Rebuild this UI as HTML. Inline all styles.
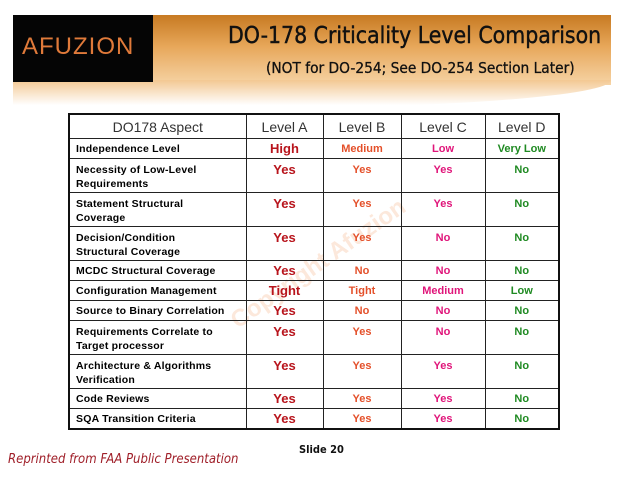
<!DOCTYPE html>
<html><head><meta charset="utf-8"><style>
body{margin:0;width:638px;height:479px;background:#fff;position:relative;overflow:hidden;font-family:"Liberation Sans",sans-serif}
.abs{position:absolute}
table{border-collapse:collapse;position:absolute;left:68px;top:113px;width:490px;table-layout:fixed;border:2px solid #111}
td{border:1px solid #222;font-size:10.5px;font-weight:bold;padding:0 6px;vertical-align:top;line-height:14px;white-space:nowrap;letter-spacing:0.2px}
td.c{text-align:center;font-size:11px;letter-spacing:0}
th{border:1px solid #222;font-size:14px;font-weight:normal;color:#333;height:21px;text-align:center}
.a{color:#b8141c;font-size:13px!important}.b{color:#e4502a}.cc{color:#e0157a}.d{color:#1f8a22}
tr.s td{height:20px;padding-top:3px;box-sizing:border-box}
tr.t td{height:34px;padding-top:4px;box-sizing:border-box}
</style></head><body>
<div class="abs" style="left:13px;top:15px;width:598px;height:70px;background:linear-gradient(180deg,#c77a22 0%,#e7a75a 45%,#f6d4a6 100%)"></div>
<div class="abs" style="left:13px;top:80px;width:598px;height:28px;background:linear-gradient(180deg,#f3c892,#fff 90%);border-radius:0 0 60% 0/0 0 100% 0"></div>
<div class="abs" style="left:13px;top:15px;width:140px;height:67px;background:#050505"></div>
<div class="abs" style="left:22px;top:33px;font-size:24px;letter-spacing:1px;color:#e07a3a;font-family:'Liberation Sans',sans-serif">AFUZION</div>
<div class="abs" style="left:228px;top:23px;font-size:22.8px;color:#111;font-family:'DejaVu Sans Condensed','Liberation Sans',sans-serif;-webkit-text-stroke:0.4px #111">DO-178 Criticality Level Comparison</div>
<div class="abs" style="left:266px;top:59px;font-size:15.3px;color:#111;font-family:'DejaVu Sans Condensed','Liberation Sans',sans-serif;-webkit-text-stroke:0.3px #111">(NOT for DO-254; See DO-254 Section Later)</div>
<div class="abs" style="left:215px;top:250px;font-size:24px;color:rgba(240,150,90,0.22);transform:rotate(-35deg);font-weight:bold">Copyright Afuzion</div>
<table>
<colgroup><col style="width:177px"><col style="width:77px"><col style="width:78px"><col style="width:84px"><col style="width:74px"></colgroup>
<tr><th>DO178 Aspect</th><th>Level A</th><th>Level B</th><th>Level C</th><th>Level D</th></tr>
<tr class="s"><td>Independence Level</td><td class="c a">High</td><td class="c b">Medium</td><td class="c cc">Low</td><td class="c d">Very Low</td></tr>
<tr class="t"><td>Necessity of Low-Level<br>Requirements</td><td class="c a">Yes</td><td class="c b">Yes</td><td class="c cc">Yes</td><td class="c d">No</td></tr>
<tr class="t"><td>Statement Structural<br>Coverage</td><td class="c a">Yes</td><td class="c b">Yes</td><td class="c cc">Yes</td><td class="c d">No</td></tr>
<tr class="t"><td>Decision/Condition<br>Structural Coverage</td><td class="c a">Yes</td><td class="c b">Yes</td><td class="c cc">No</td><td class="c d">No</td></tr>
<tr class="s"><td>MCDC Structural Coverage</td><td class="c a">Yes</td><td class="c b">No</td><td class="c cc">No</td><td class="c d">No</td></tr>
<tr class="s"><td>Configuration Management</td><td class="c a">Tight</td><td class="c b">Tight</td><td class="c cc">Medium</td><td class="c d">Low</td></tr>
<tr class="s"><td>Source to Binary Correlation</td><td class="c a">Yes</td><td class="c b">No</td><td class="c cc">No</td><td class="c d">No</td></tr>
<tr class="t"><td>Requirements Correlate to<br>Target processor</td><td class="c a">Yes</td><td class="c b">Yes</td><td class="c cc">No</td><td class="c d">No</td></tr>
<tr class="t"><td>Architecture &amp; Algorithms<br>Verification</td><td class="c a">Yes</td><td class="c b">Yes</td><td class="c cc">Yes</td><td class="c d">No</td></tr>
<tr class="s"><td>Code Reviews</td><td class="c a">Yes</td><td class="c b">Yes</td><td class="c cc">Yes</td><td class="c d">No</td></tr>
<tr class="s"><td>SQA Transition Criteria</td><td class="c a">Yes</td><td class="c b">Yes</td><td class="c cc">Yes</td><td class="c d">No</td></tr>
</table>
<div class="abs" style="left:299px;top:443px;font-size:11px;font-weight:bold;color:#111;font-family:'DejaVu Sans Condensed',sans-serif">Slide 20</div>
<div class="abs" style="left:8px;top:452px;font-size:13px;font-style:italic;color:#a0202a;font-family:'DejaVu Sans Condensed','Liberation Sans',sans-serif">Reprinted from FAA Public Presentation</div>
</body></html>
